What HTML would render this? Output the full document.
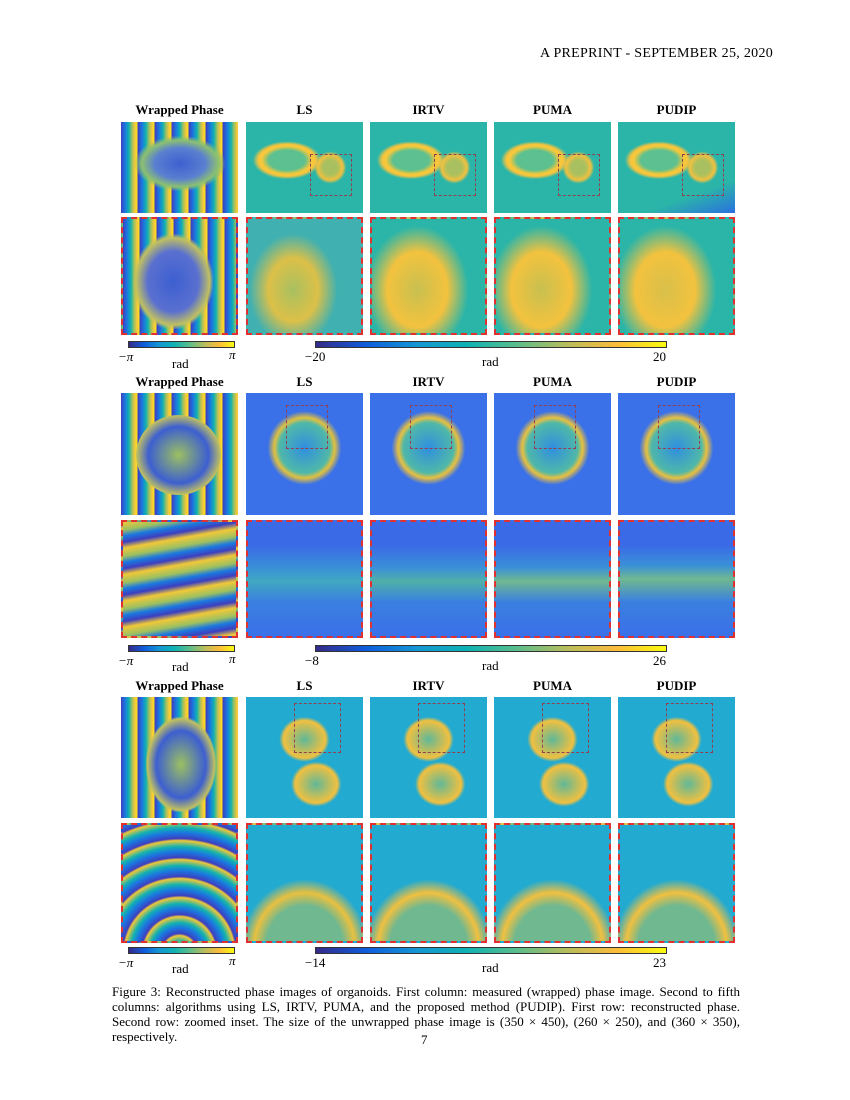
<!DOCTYPE html>
<html><head><style>
body{margin:0;background:#fff;}
#p{position:relative;width:850px;height:1100px;font-family:"Liberation Serif",serif;color:#000;overflow:hidden}
.a{position:absolute}
.t{position:absolute;font-weight:bold;font-size:13px;text-align:center;width:117px}
.z{box-sizing:border-box;border:2px dashed #e03030}
.ins{position:absolute;border:1px dashed #904050}
.lab{position:absolute;font-size:13px}
.i{font-style:italic}
.cb1{background:linear-gradient(90deg,#352a87,#0f5cdd,#1496d4,#0db2b4,#59bd8c,#b6bd5d,#fbbc3b,#f9fb0e);border:1px solid #333;height:5px}
.wr{background:repeating-linear-gradient(90deg,#3d3fbf 0,#1a78e0 4px,#12b2b0 8px,#9cc060 11px,#f6c83a 14px,#f9e020 16px,#3d3fbf 17px)}
.r1{background:radial-gradient(ellipse 36px 20px at 35% 42%,#5cc090 50%,#f8c838 70%,#f4c440 80%,transparent 95%),radial-gradient(ellipse 18px 18px at 72% 50%,#a8c060 40%,#f0c040 70%,transparent 90%),#2bb5a8}
</style></head><body><div id="p">
<div class="a" style="left:540px;top:46px;font-size:14px;letter-spacing:0.3px">A PREPRINT - SEPTEMBER 25, 2020</div>

<!-- Block 1 -->
<div class="t" style="left:121px;top:102px">Wrapped Phase</div>
<div class="t" style="left:246px;top:102px">LS</div>
<div class="t" style="left:370px;top:102px">IRTV</div>
<div class="t" style="left:494px;top:102px">PUMA</div>
<div class="t" style="left:618px;top:102px">PUDIP</div>
<div class="a wr" style="left:121px;top:122px;width:117px;height:91px"><div class="a" style="left:14px;top:14px;width:90px;height:55px;border-radius:50%;background:radial-gradient(#3d5fd0,#5a80d0 40%,#8cc070 60%,transparent 72%)"></div></div>
<div class="a r1" style="left:246px;top:122px;width:117px;height:91px"><div class="ins" style="left:64px;top:32px;width:40px;height:40px"></div></div>
<div class="a r1" style="left:370px;top:122px;width:117px;height:91px"><div class="ins" style="left:64px;top:32px;width:40px;height:40px"></div></div>
<div class="a r1" style="left:494px;top:122px;width:117px;height:91px"><div class="ins" style="left:64px;top:32px;width:40px;height:40px"></div></div>
<div class="a" style="left:618px;top:122px;width:117px;height:91px;background:radial-gradient(ellipse 36px 20px at 35% 42%,#5cc090 50%,#f8c838 70%,#f4c440 80%,transparent 95%),radial-gradient(ellipse 18px 18px at 72% 50%,#a8c060 40%,#f0c040 70%,transparent 90%),linear-gradient(160deg,#2bb5a8 75%,#2a70e0)"><div class="ins" style="left:64px;top:32px;width:40px;height:40px"></div></div>
<div class="a z wr" style="left:121px;top:217px;width:117px;height:118px"><div class="a" style="left:10px;top:15px;width:80px;height:95px;border-radius:45%;background:radial-gradient(#3d5fd0,#5a70d0 45%,#c0c060 65%,transparent 72%)"></div></div>
<div class="a z" style="left:246px;top:217px;width:117px;height:118px;background:radial-gradient(ellipse 55px 70px at 40% 62%,#a8c060,#dcc048 45%,#40b0b0 80%),#2bb0b0"></div>
<div class="a z" style="left:370px;top:217px;width:117px;height:118px;background:radial-gradient(ellipse 60px 75px at 40% 62%,#c8c050,#f3c23e 50%,#2bb5a8 85%),#2bb5a8"></div>
<div class="a z" style="left:494px;top:217px;width:117px;height:118px;background:radial-gradient(ellipse 60px 75px at 40% 62%,#c8c050,#f3c23e 50%,#2bb5a8 85%),#2bb5a8"></div>
<div class="a z" style="left:618px;top:217px;width:117px;height:118px;background:radial-gradient(ellipse 60px 75px at 40% 62%,#d8c04a,#f3c23e 50%,#2bb5a8 85%),#2bb5a8"></div>
<div class="a cb1" style="left:128px;top:341px;width:105px"></div>
<div class="a cb1" style="left:315px;top:341px;width:350px"></div>
<div class="lab i" style="left:118px;top:349px">−π</div><div class="lab i" style="left:229px;top:347px">π</div><div class="lab" style="left:172px;top:356px">rad</div>
<div class="lab" style="left:305px;top:349px">−20</div><div class="lab" style="left:482px;top:354px">rad</div><div class="lab" style="left:653px;top:349px">20</div>

<!-- Block 2 -->
<div class="t" style="left:121px;top:374px">Wrapped Phase</div>
<div class="t" style="left:246px;top:374px">LS</div>
<div class="t" style="left:370px;top:374px">IRTV</div>
<div class="t" style="left:494px;top:374px">PUMA</div>
<div class="t" style="left:618px;top:374px">PUDIP</div>
<div class="a wr" style="left:121px;top:393px;width:117px;height:122px"><div class="a" style="left:15px;top:22px;width:85px;height:80px;border-radius:50%;background:radial-gradient(#9cc060,#3d5fd0 50%,#c0c060 70%,transparent 73%)"></div></div>
<div class="a" style="left:246px;top:393px;width:117px;height:122px;background:radial-gradient(circle 42px at 50% 45%,#2f8fe0,#50b8a8 60%,#e0c040 72%,#3a70e8 88%),#3a70e8"><div class="ins" style="left:40px;top:12px;width:40px;height:42px"></div></div>
<div class="a" style="left:370px;top:393px;width:117px;height:122px;background:radial-gradient(circle 42px at 50% 45%,#2f8fe0,#50b8a8 60%,#e8c040 72%,#3a70e8 88%),#3a70e8"><div class="ins" style="left:40px;top:12px;width:40px;height:42px"></div></div>
<div class="a" style="left:494px;top:393px;width:117px;height:122px;background:radial-gradient(circle 42px at 50% 45%,#2f8fe0,#50b8a8 60%,#e8c040 72%,#3a70e8 88%),#3a70e8"><div class="ins" style="left:40px;top:12px;width:40px;height:42px"></div></div>
<div class="a" style="left:618px;top:393px;width:117px;height:122px;background:radial-gradient(circle 42px at 50% 45%,#2f8fe0,#50b8a8 60%,#e8c040 72%,#3a70e8 88%),#3a70e8"><div class="ins" style="left:40px;top:12px;width:40px;height:42px"></div></div>
<div class="a z" style="left:121px;top:520px;width:117px;height:118px;background:repeating-linear-gradient(170deg,#f0c838 0,#9cc060 8px,#1a78e0 14px,#3d3fbf 20px,#f0c838 26px)"></div>
<div class="a z" style="left:246px;top:520px;width:117px;height:118px;background:linear-gradient(180deg,#3a6ae6 20%,#3a90d8 40%,#40a8c0 52%,#3a80e0 70%,#3a70e8)"></div>
<div class="a z" style="left:370px;top:520px;width:117px;height:118px;background:linear-gradient(180deg,#3a6ae6 20%,#3a90d8 40%,#50b0a8 52%,#3a80e0 70%,#3a70e8)"></div>
<div class="a z" style="left:494px;top:520px;width:117px;height:118px;background:linear-gradient(180deg,#3a6ae6 20%,#3a90d8 40%,#70b890 52%,#3a80e0 70%,#3a70e8)"></div>
<div class="a z" style="left:618px;top:520px;width:117px;height:118px;background:linear-gradient(180deg,#3a6ae6 20%,#3a90d8 38%,#70b890 50%,#3a80e0 70%,#3a70e8)"></div>
<div class="a cb1" style="left:128px;top:645px;width:105px"></div>
<div class="a cb1" style="left:315px;top:645px;width:350px"></div>
<div class="lab i" style="left:118px;top:653px">−π</div><div class="lab i" style="left:229px;top:651px">π</div><div class="lab" style="left:172px;top:659px">rad</div>
<div class="lab" style="left:305px;top:653px">−8</div><div class="lab" style="left:482px;top:658px">rad</div><div class="lab" style="left:653px;top:653px">26</div>

<!-- Block 3 -->
<div class="t" style="left:121px;top:678px">Wrapped Phase</div>
<div class="t" style="left:246px;top:678px">LS</div>
<div class="t" style="left:370px;top:678px">IRTV</div>
<div class="t" style="left:494px;top:678px">PUMA</div>
<div class="t" style="left:618px;top:678px">PUDIP</div>
<div class="a wr" style="left:121px;top:697px;width:117px;height:121px"><div class="a" style="left:25px;top:20px;width:70px;height:95px;border-radius:45%;background:radial-gradient(#9cc060,#3d5fd0 50%,#c0c060 68%,transparent 72%)"></div></div>
<div class="a" style="left:246px;top:697px;width:117px;height:121px;background:radial-gradient(ellipse 28px 25px at 50% 35%,#60b898,#f0c040 75%,transparent 90%),radial-gradient(ellipse 28px 25px at 60% 72%,#60b898,#f0c040 75%,transparent 90%),#22aad0"><div class="ins" style="left:48px;top:6px;width:45px;height:48px"></div></div>
<div class="a" style="left:370px;top:697px;width:117px;height:121px;background:radial-gradient(ellipse 28px 25px at 50% 35%,#60b898,#f0c040 75%,transparent 90%),radial-gradient(ellipse 28px 25px at 60% 72%,#60b898,#f0c040 75%,transparent 90%),#22aad0"><div class="ins" style="left:48px;top:6px;width:45px;height:48px"></div></div>
<div class="a" style="left:494px;top:697px;width:117px;height:121px;background:radial-gradient(ellipse 28px 25px at 50% 35%,#60b898,#f0c040 75%,transparent 90%),radial-gradient(ellipse 28px 25px at 60% 72%,#60b898,#f0c040 75%,transparent 90%),#22aad0"><div class="ins" style="left:48px;top:6px;width:45px;height:48px"></div></div>
<div class="a" style="left:618px;top:697px;width:117px;height:121px;background:radial-gradient(ellipse 28px 25px at 50% 35%,#60b898,#f0c040 75%,transparent 90%),radial-gradient(ellipse 28px 25px at 60% 72%,#60b898,#f0c040 75%,transparent 90%),#22aad0"><div class="ins" style="left:48px;top:6px;width:45px;height:48px"></div></div>
<div class="a z" style="left:121px;top:823px;width:117px;height:120px;background:repeating-radial-gradient(circle at 50% 110%,#3d3fbf 0,#1a78e0 6px,#12b2b0 11px,#f0c838 17px,#3d3fbf 19px)"></div>
<div class="a z" style="left:246px;top:823px;width:117px;height:120px;background:radial-gradient(ellipse 70px 75px at 50% 105%,#70b890 55%,#e8c040 72%,#22aad0 90%),#22aad0"></div>
<div class="a z" style="left:370px;top:823px;width:117px;height:120px;background:radial-gradient(ellipse 70px 75px at 50% 105%,#70b890 55%,#f0c040 72%,#22aad0 90%),#22aad0"></div>
<div class="a z" style="left:494px;top:823px;width:117px;height:120px;background:radial-gradient(ellipse 70px 75px at 50% 105%,#70b890 55%,#f0c040 72%,#22aad0 90%),#22aad0"></div>
<div class="a z" style="left:618px;top:823px;width:117px;height:120px;background:radial-gradient(ellipse 70px 75px at 50% 105%,#70b890 55%,#f0c040 72%,#22aad0 90%),#22aad0"></div>
<div class="a cb1" style="left:128px;top:947px;width:105px"></div>
<div class="a cb1" style="left:315px;top:947px;width:350px"></div>
<div class="lab i" style="left:118px;top:955px">−π</div><div class="lab i" style="left:229px;top:953px">π</div><div class="lab" style="left:172px;top:961px">rad</div>
<div class="lab" style="left:305px;top:955px">−14</div><div class="lab" style="left:482px;top:960px">rad</div><div class="lab" style="left:653px;top:955px">23</div>

<div class="a" style="left:112px;top:984px;width:628px;font-size:13px;line-height:15px;text-align:justify">Figure 3: Reconstructed phase images of organoids. First column: measured (wrapped) phase image. Second to fifth columns: algorithms using LS, IRTV, PUMA, and the proposed method (PUDIP). First row: reconstructed phase. Second row: zoomed inset. The size of the unwrapped phase image is (350 × 450), (260 × 250), and (360 × 350), respectively.</div>
<div class="a" style="left:421px;top:1032px;font-size:13px">7</div>
</div></body></html>
